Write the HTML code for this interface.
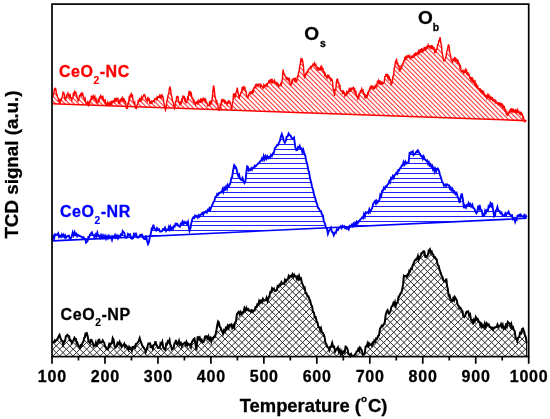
<!DOCTYPE html><html><head><meta charset="utf-8"><style>html,body{margin:0;padding:0;background:#fff;}svg{display:block;}text{font-family:"Liberation Sans",Arial,sans-serif;font-weight:bold;stroke:#000;stroke-width:0.3px;}</style></head><body><svg width="550" height="419" viewBox="0 0 550 419"><rect width="550" height="419" fill="#fff"/><defs><clipPath id="cr"><path d="M52.2 98.2 L52.9 95.8 L53.6 94.5 L54.4 89.1 L55.1 88.2 L55.8 88.8 L56.4 93.6 L57.0 94.3 L57.6 97.7 L58.2 98.2 L58.8 100.9 L59.4 100.0 L60.0 103.6 L60.6 99.6 L61.2 100.2 L61.8 98.2 L62.4 96.4 L63.0 92.3 L63.6 92.7 L64.2 93.8 L64.9 99.2 L65.5 100.0 L66.1 98.2 L66.7 95.0 L67.3 94.5 L67.9 93.1 L68.5 96.2 L69.1 96.4 L69.5 97.0 L70.0 93.6 L70.6 97.6 L71.2 97.7 L71.8 100.0 L72.3 98.2 L72.9 97.8 L73.4 92.6 L74.0 94.2 L74.5 91.8 L75.1 93.2 L75.8 92.3 L76.4 94.5 L77.0 96.5 L77.6 99.2 L78.2 100.9 L78.8 100.0 L79.4 95.8 L80.0 95.5 L80.5 94.3 L81.1 95.2 L81.6 93.6 L82.2 94.9 L82.7 93.6 L83.3 96.3 L83.9 97.7 L84.5 100.0 L85.1 98.6 L85.8 103.0 L86.4 102.7 L87.1 104.0 L87.8 102.0 L88.4 104.8 L89.1 102.7 L89.6 103.6 L90.2 100.4 L90.7 100.7 L91.3 97.1 L91.8 98.2 L92.4 95.6 L93.0 98.9 L93.6 96.4 L94.2 98.5 L94.9 96.6 L95.5 100.0 L96.1 99.0 L96.7 102.4 L97.3 102.7 L97.8 103.0 L98.4 98.5 L98.9 101.8 L99.5 97.6 L100.0 98.2 L100.6 95.9 L101.2 97.1 L101.8 96.4 L102.4 98.4 L103.0 97.2 L103.6 100.9 L104.2 100.2 L104.7 102.3 L105.3 100.9 L105.8 104.5 L106.4 103.6 L107.1 105.0 L107.8 102.4 L108.4 104.5 L109.1 103.6 L109.6 104.7 L110.2 101.5 L110.7 104.7 L111.3 102.4 L111.8 103.6 L112.3 101.4 L112.9 102.2 L113.4 101.2 L114.0 102.2 L114.5 100.0 L115.1 101.9 L115.6 97.9 L116.2 100.3 L116.7 98.6 L117.3 99.1 L117.9 98.5 L118.5 102.9 L119.1 101.8 L119.6 102.9 L120.2 99.1 L120.7 102.0 L121.3 98.8 L121.8 99.1 L122.3 97.8 L122.9 101.4 L123.4 98.0 L124.0 100.8 L124.5 100.0 L125.1 102.4 L125.6 102.0 L126.2 106.4 L126.7 106.5 L127.3 106.5 L127.9 103.3 L128.5 103.5 L129.1 98.2 L129.6 99.3 L130.2 94.7 L130.7 97.7 L131.3 93.7 L131.8 94.5 L132.4 95.3 L133.0 100.3 L133.6 101.8 L134.2 103.4 L134.7 102.4 L135.3 106.8 L135.8 106.8 L136.4 106.8 L137.0 104.9 L137.6 104.6 L138.2 100.9 L138.7 101.5 L139.3 99.4 L139.8 101.5 L140.4 98.4 L140.9 100.0 L141.5 97.3 L142.1 99.2 L142.7 97.3 L143.3 96.4 L143.9 94.6 L144.5 94.5 L145.1 95.7 L145.8 99.4 L146.4 100.0 L147.1 101.3 L147.8 96.9 L148.4 100.3 L149.1 98.2 L149.6 102.6 L150.0 103.6 L150.6 103.6 L151.2 100.3 L151.8 103.5 L152.4 101.2 L153.1 101.1 L153.7 100.4 L154.3 101.6 L154.9 98.7 L155.5 99.0 L156.1 98.3 L156.7 99.7 L157.2 97.0 L157.8 98.0 L158.4 97.0 L159.0 97.3 L159.6 95.6 L160.2 97.3 L160.8 95.9 L161.5 98.2 L162.1 95.2 L162.7 96.4 L163.3 98.1 L163.8 102.8 L164.4 104.4 L164.9 107.8 L165.5 107.8 L166.2 107.0 L166.8 101.6 L167.5 98.6 L168.2 94.5 L168.8 94.0 L169.4 88.2 L170.0 87.3 L170.6 89.6 L171.2 94.6 L171.8 96.4 L172.5 101.0 L173.2 102.1 L173.8 105.1 L174.5 108.0 L175.1 106.0 L175.6 101.4 L176.2 101.4 L176.7 96.8 L177.3 96.4 L178.0 96.8 L178.7 102.1 L179.3 102.4 L180.0 105.5 L180.6 101.4 L181.2 104.1 L181.8 99.4 L182.4 99.9 L183.0 96.1 L183.6 96.4 L184.2 96.4 L184.7 100.1 L185.3 99.1 L185.8 102.8 L186.4 102.7 L187.0 100.9 L187.6 97.8 L188.2 98.9 L188.8 92.6 L189.4 93.6 L190.0 91.0 L190.7 94.6 L191.3 93.6 L192.0 98.4 L192.7 98.2 L193.3 101.0 L193.8 99.4 L194.4 102.5 L194.9 103.2 L195.5 104.5 L196.1 101.7 L196.7 103.7 L197.2 100.9 L197.8 104.7 L198.4 100.6 L199.0 101.8 L199.6 100.9 L200.2 103.0 L200.8 98.3 L201.4 102.0 L202.1 98.7 L202.7 100.7 L203.3 98.5 L203.9 99.7 L204.5 99.0 L205.1 101.5 L205.7 99.8 L206.3 102.7 L207.0 102.9 L207.6 105.8 L208.2 105.5 L208.8 105.5 L209.4 102.8 L210.0 104.3 L210.6 100.7 L211.2 104.3 L211.8 101.8 L212.4 96.4 L213.0 90.2 L213.6 85.5 L214.2 88.7 L214.9 96.0 L215.5 98.2 L216.1 101.8 L216.7 101.0 L217.2 104.5 L217.8 104.2 L218.4 109.7 L219.0 109.7 L219.6 109.8 L220.2 105.2 L220.8 106.3 L221.5 100.7 L222.1 101.8 L222.7 99.0 L223.3 101.7 L223.9 99.4 L224.6 102.4 L225.2 101.1 L225.8 102.4 L226.4 102.7 L227.0 104.4 L227.6 101.5 L228.2 103.6 L228.8 100.1 L229.4 103.4 L230.0 101.4 L230.6 104.9 L231.2 105.7 L231.8 109.5 L232.4 103.1 L233.0 100.4 L233.6 93.2 L234.2 96.0 L234.9 93.7 L235.5 97.7 L236.1 92.0 L236.7 91.3 L237.3 87.7 L237.9 92.5 L238.5 94.5 L239.1 98.6 L239.7 96.3 L240.3 94.6 L240.9 92.3 L241.6 92.5 L242.2 87.0 L242.9 89.2 L243.6 85.9 L244.2 88.4 L244.9 87.8 L245.5 91.4 L246.1 91.4 L246.7 96.4 L247.3 97.7 L248.0 97.5 L248.7 94.2 L249.3 93.8 L250.0 92.3 L250.6 93.5 L251.2 91.1 L251.8 94.1 L252.5 90.9 L253.2 92.8 L253.8 87.9 L254.5 87.7 L255.1 86.2 L255.6 88.3 L256.2 83.8 L256.7 85.6 L257.3 85.0 L258.0 86.2 L258.6 84.2 L259.3 84.6 L260.0 84.1 L260.7 86.6 L261.4 85.3 L262.0 86.6 L262.7 86.8 L263.3 88.7 L263.8 85.1 L264.4 86.5 L264.9 85.5 L265.5 85.9 L266.2 84.4 L266.9 86.1 L267.5 83.5 L268.2 83.2 L268.9 80.3 L269.5 83.1 L270.2 79.3 L270.9 81.4 L271.4 79.0 L272.0 82.0 L272.5 80.5 L273.1 82.4 L273.6 81.4 L274.2 82.1 L274.7 80.6 L275.3 83.1 L275.8 83.5 L276.4 84.1 L276.9 81.9 L277.5 85.4 L278.0 83.5 L278.6 86.5 L279.1 85.9 L279.8 85.7 L280.5 83.8 L281.1 85.1 L281.8 82.3 L282.5 77.9 L283.1 69.5 L283.8 73.8 L284.5 74.1 L285.1 76.1 L285.8 76.9 L286.4 79.5 L287.0 77.1 L287.6 80.3 L288.2 77.7 L288.9 80.7 L289.5 79.4 L290.2 84.6 L290.9 85.0 L291.4 84.3 L292.0 80.8 L292.5 81.8 L293.1 79.0 L293.6 78.6 L294.2 78.8 L294.7 80.3 L295.3 77.7 L295.8 81.8 L296.4 81.4 L296.9 80.8 L297.5 75.6 L298.0 77.4 L298.6 72.2 L299.1 71.4 L299.7 66.4 L300.3 64.1 L300.9 59.5 L301.5 60.8 L302.1 58.5 L302.7 61.4 L303.3 64.5 L303.9 72.9 L304.5 77.7 L305.1 77.2 L305.8 73.7 L306.4 74.1 L306.9 71.3 L307.5 73.1 L308.0 70.0 L308.6 69.7 L309.1 68.6 L309.8 68.4 L310.5 66.9 L311.1 67.7 L311.8 65.9 L312.5 65.4 L313.1 64.2 L313.8 65.2 L314.5 63.2 L315.1 65.6 L315.8 64.6 L316.4 68.6 L316.9 67.1 L317.5 70.4 L318.0 68.0 L318.6 69.6 L319.1 68.6 L319.8 69.8 L320.5 67.4 L321.1 69.2 L321.8 66.8 L322.4 69.3 L323.0 68.9 L323.6 73.2 L324.2 71.4 L324.7 76.3 L325.3 74.3 L325.8 76.3 L326.4 76.8 L327.0 78.0 L327.6 74.7 L328.2 77.9 L328.8 75.0 L329.4 77.8 L330.0 77.7 L330.7 80.2 L331.3 78.7 L332.0 79.5 L332.6 82.6 L333.2 89.6 L333.9 89.7 L334.5 96.0 L335.1 89.5 L335.8 89.5 L336.4 81.6 L337.0 79.5 L337.6 79.1 L338.1 83.0 L338.7 82.9 L339.3 86.1 L339.9 85.4 L340.4 90.3 L341.0 90.5 L341.6 91.5 L342.1 91.2 L342.7 94.0 L343.2 90.3 L343.8 94.1 L344.4 91.9 L344.9 95.8 L345.5 94.5 L346.1 95.0 L346.7 92.3 L347.2 93.7 L347.8 91.7 L348.4 92.1 L349.0 89.8 L349.6 92.0 L350.1 89.0 L350.7 90.3 L351.3 88.5 L351.9 89.4 L352.4 88.2 L353.0 88.7 L353.6 87.7 L354.2 91.0 L354.8 89.6 L355.4 93.2 L355.9 92.2 L356.5 96.0 L357.1 97.0 L357.7 98.6 L358.3 95.7 L358.9 96.9 L359.5 92.6 L360.0 94.0 L360.6 89.8 L361.2 91.9 L361.8 89.0 L362.4 90.9 L363.0 90.3 L363.6 94.1 L364.2 93.7 L364.8 96.7 L365.4 95.6 L366.0 98.6 L366.6 94.6 L367.1 97.4 L367.7 93.0 L368.3 93.7 L368.9 90.6 L369.4 89.4 L370.0 87.7 L370.6 88.8 L371.2 85.4 L371.8 88.0 L372.4 85.6 L373.1 89.5 L373.7 86.7 L374.3 89.1 L374.9 85.4 L375.5 87.7 L376.1 85.2 L376.8 86.5 L377.4 81.6 L378.0 82.3 L378.6 80.7 L379.2 84.4 L379.9 80.4 L380.5 84.9 L381.1 81.4 L381.7 83.5 L382.4 82.5 L383.0 83.9 L383.6 83.6 L384.2 82.4 L384.8 76.7 L385.4 76.5 L386.0 74.0 L386.6 76.4 L387.2 73.9 L387.7 77.6 L388.3 76.3 L388.9 79.1 L389.5 77.7 L390.1 80.8 L390.6 79.1 L391.2 84.3 L391.8 83.6 L392.4 81.6 L393.0 76.1 L393.6 75.6 L394.2 67.9 L394.8 67.4 L395.4 61.7 L396.0 60.5 L396.6 59.6 L397.1 64.6 L397.7 62.7 L398.3 67.0 L398.9 65.0 L399.4 70.8 L400.0 70.2 L400.6 69.6 L401.2 65.2 L401.8 66.8 L402.5 63.9 L403.1 63.7 L403.7 61.1 L404.3 60.2 L404.9 56.9 L405.5 60.5 L406.0 57.1 L406.6 58.0 L407.2 55.9 L407.8 56.9 L408.4 55.8 L409.0 57.1 L409.7 55.8 L410.3 58.5 L410.9 57.1 L411.5 57.3 L412.1 56.1 L412.8 57.3 L413.4 55.7 L414.0 56.7 L414.7 53.2 L415.3 56.2 L415.9 53.2 L416.6 54.1 L417.2 53.0 L417.8 53.8 L418.4 51.5 L418.9 53.3 L419.5 51.0 L420.1 53.0 L420.7 49.1 L421.3 52.7 L421.8 48.1 L422.4 51.5 L423.0 50.1 L423.6 50.7 L424.3 47.0 L424.9 50.6 L425.5 46.9 L426.2 49.0 L426.8 46.9 L427.4 47.7 L428.1 44.9 L428.7 46.7 L429.3 46.3 L429.9 48.4 L430.5 45.4 L431.2 49.0 L431.8 45.0 L432.4 49.2 L433.0 47.3 L433.6 48.7 L434.1 48.1 L434.7 51.9 L435.2 50.8 L435.8 53.0 L436.4 49.2 L437.0 49.2 L437.6 44.7 L438.3 44.0 L438.9 40.4 L439.5 40.4 L440.1 37.2 L440.7 42.3 L441.4 44.9 L442.0 52.2 L442.6 55.0 L443.3 59.4 L444.0 61.0 L444.8 60.5 L445.5 58.0 L446.1 56.6 L446.7 51.4 L447.3 50.3 L447.9 47.1 L448.5 44.4 L449.2 47.0 L449.8 52.7 L450.5 55.0 L451.2 59.8 L452.0 61.0 L452.6 62.1 L453.2 58.2 L453.9 61.2 L454.5 58.5 L455.1 60.1 L455.7 57.5 L456.3 61.3 L457.0 59.0 L457.6 63.8 L458.2 61.4 L458.8 63.0 L459.4 64.1 L459.9 67.7 L460.5 66.6 L461.0 70.6 L461.6 71.6 L462.2 71.6 L462.9 70.4 L463.5 72.5 L464.1 70.3 L464.7 73.4 L465.4 69.9 L466.0 71.6 L466.6 70.4 L467.2 75.1 L467.8 72.0 L468.4 75.9 L469.0 73.7 L469.6 77.9 L470.2 77.4 L470.8 79.6 L471.4 77.2 L472.0 80.7 L472.7 78.9 L473.3 82.8 L473.9 79.8 L474.5 83.1 L475.1 81.8 L475.7 86.5 L476.3 83.4 L477.0 88.1 L477.6 85.4 L478.2 88.7 L478.8 88.8 L479.4 90.0 L480.0 88.1 L480.6 92.5 L481.3 89.7 L481.9 92.2 L482.5 90.2 L483.1 93.1 L483.7 92.2 L484.3 95.2 L484.8 94.6 L485.4 96.5 L486.0 96.0 L486.6 97.9 L487.3 95.3 L487.9 97.7 L488.5 95.4 L489.2 97.7 L489.8 96.4 L490.4 100.2 L491.1 96.6 L491.7 98.9 L492.3 98.1 L493.0 101.3 L493.6 98.6 L494.2 101.2 L494.9 100.5 L495.5 103.5 L496.1 101.3 L496.8 102.8 L497.4 103.1 L498.0 105.1 L498.6 102.1 L499.1 104.7 L499.7 102.7 L500.3 106.1 L500.9 104.2 L501.5 106.5 L502.0 103.4 L502.6 107.4 L503.2 106.0 L503.8 108.0 L504.4 107.1 L505.0 110.8 L505.7 110.1 L506.3 113.5 L506.9 112.4 L507.5 116.0 L508.1 112.5 L508.6 114.4 L509.2 111.8 L509.7 113.4 L510.3 110.3 L510.9 112.0 L511.5 108.4 L512.1 111.0 L512.8 108.7 L513.4 112.6 L514.0 110.5 L514.6 111.7 L515.2 110.4 L515.8 113.3 L516.4 109.6 L517.1 112.1 L517.7 109.9 L518.3 112.0 L518.9 111.7 L519.5 114.3 L520.1 111.5 L520.6 115.3 L521.2 112.0 L521.8 114.6 L522.4 114.3 L523.0 118.0 L523.5 117.4 L524.1 120.6 L524.7 120.6 L525.4 120.6 L526.1 120.3 L526.1 120.6 L52.2 103.8 Z"/></clipPath><clipPath id="cb"><path d="M52.5 240.3 L53.3 236.4 L54.2 238.2 L55.0 234.3 L55.8 234.6 L56.5 234.4 L57.3 234.8 L58.2 233.4 L59.1 236.9 L60.0 235.8 L60.9 236.9 L61.8 234.5 L62.7 236.3 L63.6 234.8 L64.4 237.0 L65.2 235.5 L66.0 237.8 L67.1 236.3 L68.2 235.8 L69.0 235.8 L69.7 238.6 L70.5 238.8 L71.6 237.0 L72.7 232.4 L73.6 235.2 L74.6 232.1 L75.5 234.8 L76.4 233.8 L77.2 236.2 L78.1 234.9 L79.0 235.8 L79.9 236.0 L80.9 236.5 L81.8 236.8 L82.7 238.4 L83.6 237.3 L84.5 238.8 L85.3 238.9 L86.0 239.3 L86.8 239.2 L87.6 239.2 L88.4 237.0 L89.2 237.0 L90.0 234.8 L90.9 233.6 L91.8 232.4 L92.7 234.7 L93.6 235.3 L94.5 237.3 L95.4 234.6 L96.4 236.3 L97.3 232.8 L98.2 235.8 L99.1 235.6 L100.0 237.8 L101.0 235.1 L102.0 237.7 L103.0 235.3 L104.0 237.9 L105.0 235.8 L106.0 238.3 L107.0 236.2 L108.0 238.2 L109.0 235.8 L110.0 237.8 L111.0 236.5 L112.0 238.0 L113.0 236.2 L114.0 236.8 L115.0 234.8 L116.0 237.5 L117.0 235.6 L118.0 237.8 L119.0 235.9 L120.0 236.7 L121.0 234.3 L121.9 234.6 L122.7 231.1 L123.6 232.3 L124.4 233.0 L125.2 237.4 L126.0 237.4 L127.0 237.3 L128.0 234.0 L129.0 234.8 L130.0 234.3 L131.0 237.1 L132.0 237.1 L133.0 237.0 L134.0 233.6 L135.0 233.8 L136.0 233.6 L137.0 236.8 L138.0 236.8 L139.0 236.8 L140.0 235.0 L141.0 234.8 L142.0 234.6 L143.0 236.6 L144.0 236.5 L145.0 236.5 L146.0 235.8 L147.0 236.4 L148.0 236.3 L149.0 236.3 L150.0 236.0 L150.8 233.8 L151.7 228.5 L152.6 229.0 L153.4 224.8 L154.2 227.9 L155.0 229.0 L156.0 230.4 L157.0 228.2 L158.0 230.0 L159.0 229.2 L160.0 231.6 L161.0 231.5 L162.0 231.2 L163.0 229.0 L164.0 229.5 L165.0 227.7 L166.0 231.0 L167.0 229.6 L168.0 230.0 L168.8 227.2 L169.5 229.2 L170.3 226.6 L171.2 229.2 L172.1 227.7 L173.0 229.0 L173.8 226.1 L174.7 226.5 L175.6 223.6 L176.4 223.7 L177.3 223.8 L178.1 225.7 L179.0 226.0 L179.9 226.7 L180.8 223.5 L181.6 223.8 L182.5 221.7 L183.3 223.9 L184.2 222.1 L185.0 223.3 L186.0 222.2 L187.0 224.1 L188.0 221.8 L188.8 227.1 L189.5 230.8 L190.5 228.3 L191.4 222.7 L192.4 218.9 L193.3 217.4 L194.2 218.0 L195.1 215.6 L196.0 216.7 L196.9 215.9 L197.8 217.5 L198.7 215.2 L199.6 216.5 L200.5 214.6 L201.4 214.4 L202.3 213.1 L203.2 214.8 L204.1 212.1 L205.0 212.4 L205.9 211.4 L206.8 212.5 L207.7 209.9 L208.5 210.6 L209.4 208.2 L210.3 209.9 L211.3 207.0 L212.3 205.0 L213.3 202.5 L214.3 201.2 L215.3 197.1 L216.3 196.5 L217.2 194.0 L218.1 194.9 L219.0 193.0 L219.9 193.0 L220.8 192.0 L221.7 192.3 L222.6 189.2 L223.4 191.7 L224.3 187.8 L225.2 189.1 L226.1 186.6 L227.0 189.0 L227.9 184.9 L228.8 186.4 L229.7 184.6 L230.5 182.6 L231.3 178.2 L232.1 177.1 L233.1 170.4 L234.2 165.2 L235.2 166.4 L236.3 168.2 L237.5 173.5 L238.3 175.9 L239.1 174.7 L239.9 178.3 L240.7 179.5 L241.6 179.9 L242.5 178.0 L243.5 181.3 L244.5 183.0 L245.5 181.0 L246.3 172.6 L247.2 166.5 L248.0 167.1 L248.7 170.4 L249.5 169.5 L250.3 170.1 L251.2 168.3 L252.0 169.7 L252.9 167.8 L253.8 167.9 L254.7 165.7 L255.6 166.4 L256.5 165.2 L257.4 164.4 L258.3 163.3 L259.2 162.9 L260.1 161.4 L261.0 160.8 L261.9 158.5 L262.8 160.0 L263.7 156.1 L264.6 159.1 L265.5 156.3 L266.4 158.6 L267.3 156.3 L268.2 158.1 L269.1 156.8 L270.0 157.8 L271.0 155.0 L271.9 156.0 L272.9 153.3 L273.9 152.9 L274.9 147.8 L275.9 147.3 L276.9 145.2 L277.9 145.2 L278.9 142.9 L279.9 141.0 L280.8 136.9 L281.8 134.0 L282.8 136.8 L283.8 140.8 L284.8 142.9 L285.8 140.8 L286.7 136.7 L287.7 136.3 L288.6 133.5 L289.5 134.9 L290.5 135.4 L291.4 137.6 L292.3 138.4 L293.1 138.4 L294.0 137.5 L295.3 147.3 L296.3 150.3 L297.1 150.2 L298.0 147.0 L298.9 147.6 L299.7 145.9 L300.6 148.7 L301.5 148.3 L302.4 152.2 L303.3 149.9 L304.2 153.3 L305.2 155.2 L306.2 161.1 L307.2 163.7 L308.2 169.7 L309.1 172.3 L310.1 178.6 L311.1 182.2 L312.1 187.0 L313.1 190.0 L314.1 195.1 L315.1 197.5 L316.1 202.0 L317.0 203.8 L318.0 207.9 L318.9 208.4 L319.9 211.1 L320.9 211.2 L321.9 214.4 L322.9 215.5 L323.9 221.6 L324.9 223.3 L325.9 227.4 L326.9 227.8 L327.9 227.7 L328.9 227.7 L329.9 227.6 L330.9 227.6 L331.9 227.6 L332.8 227.5 L333.8 227.5 L334.8 227.4 L335.8 227.4 L336.8 227.3 L337.8 227.3 L338.8 227.2 L339.8 227.2 L340.7 226.4 L341.6 227.1 L342.5 225.8 L343.4 227.0 L344.3 226.3 L345.2 226.9 L346.1 226.9 L346.9 226.8 L347.8 226.8 L348.7 226.7 L349.7 225.9 L350.7 226.5 L351.7 224.8 L352.6 226.1 L353.4 223.8 L354.3 225.3 L355.1 223.0 L356.0 224.7 L356.8 221.9 L357.7 223.3 L358.6 221.2 L359.5 221.2 L360.3 219.4 L361.2 218.7 L362.1 217.4 L363.0 218.2 L363.9 214.2 L364.8 216.6 L365.7 212.3 L366.6 212.9 L367.5 212.2 L368.4 213.0 L369.3 209.5 L370.2 211.9 L371.1 209.9 L372.1 208.4 L373.1 204.1 L374.1 202.5 L375.0 201.1 L375.9 203.5 L376.7 200.9 L377.6 202.4 L378.5 201.0 L379.4 199.9 L380.3 194.9 L381.2 196.4 L382.1 190.8 L383.0 190.6 L383.9 187.7 L384.8 188.8 L385.7 186.4 L386.6 186.8 L387.5 184.6 L388.4 183.9 L389.3 181.2 L390.1 182.4 L391.0 177.9 L391.9 178.6 L392.8 176.1 L393.7 177.9 L394.6 174.8 L395.5 174.6 L396.4 172.7 L397.3 173.7 L398.2 170.2 L399.1 170.4 L400.0 168.3 L400.9 167.5 L401.8 165.4 L402.7 165.6 L403.6 162.0 L404.6 164.5 L405.5 161.6 L406.5 163.5 L407.6 162.6 L408.6 162.5 L409.6 153.0 L410.4 153.4 L411.2 152.0 L412.0 152.5 L412.8 151.5 L413.5 154.9 L414.3 154.0 L415.4 153.6 L416.5 151.5 L417.2 152.0 L418.0 150.5 L419.0 152.5 L420.0 154.0 L420.9 156.0 L421.8 155.8 L422.8 158.9 L423.7 156.5 L424.7 159.3 L425.5 159.8 L426.3 161.0 L427.1 160.5 L428.0 163.7 L428.8 162.2 L429.7 165.3 L430.5 164.2 L431.3 166.6 L432.1 165.6 L433.0 169.4 L433.8 168.0 L434.6 171.5 L435.4 169.1 L436.2 171.1 L437.0 168.7 L437.8 168.4 L438.9 170.5 L439.9 174.6 L440.9 177.3 L442.0 181.4 L443.0 183.0 L444.0 185.8 L445.1 184.6 L446.1 186.1 L447.1 184.4 L448.2 185.1 L449.0 185.3 L449.8 188.5 L450.6 187.5 L451.4 190.3 L452.4 188.8 L453.5 192.4 L454.5 191.4 L455.5 194.1 L456.6 192.9 L457.6 196.6 L458.6 198.9 L459.7 202.9 L460.8 196.6 L461.8 193.5 L462.9 199.4 L463.9 208.1 L464.9 205.5 L466.0 207.7 L467.0 205.0 L467.8 205.2 L468.6 203.1 L469.4 205.0 L470.2 203.9 L471.2 206.6 L472.3 204.7 L473.3 208.1 L474.3 208.4 L475.4 211.6 L476.4 213.3 L477.2 212.2 L478.0 207.6 L478.8 208.8 L479.6 205.0 L480.6 209.8 L481.7 210.2 L482.7 215.4 L483.5 214.3 L484.4 215.2 L485.2 210.7 L486.1 212.5 L486.9 210.2 L487.8 210.8 L488.6 206.0 L489.5 206.8 L490.4 203.6 L491.2 205.7 L492.1 202.9 L493.1 210.0 L494.2 216.4 L495.0 215.5 L495.8 210.4 L496.6 209.7 L497.4 207.0 L498.4 210.7 L499.5 210.8 L500.5 213.3 L501.5 212.6 L502.6 215.6 L503.6 215.4 L504.4 215.5 L505.3 213.3 L506.1 215.1 L507.0 213.2 L507.8 213.3 L508.6 211.8 L509.5 214.3 L510.3 214.5 L511.2 216.0 L512.0 215.4 L513.0 218.9 L514.1 218.2 L515.1 218.8 L515.9 218.5 L516.7 218.7 L517.5 215.5 L518.3 215.4 L519.1 214.8 L519.9 216.3 L520.8 214.8 L521.6 216.3 L522.4 216.4 L523.2 216.8 L524.1 215.2 L524.9 217.4 L525.8 215.7 L526.6 217.5 L526.6 218.3 L52.5 240.9 Z"/></clipPath><clipPath id="ck"><path d="M52.7 343.1 L53.4 342.0 L54.1 342.2 L54.8 340.4 L55.5 341.3 L56.8 339.5 L57.5 339.2 L58.2 337.2 L59.5 334.9 L60.5 338.1 L61.8 340.8 L62.5 341.2 L63.2 344.5 L64.5 340.8 L65.2 340.1 L65.9 336.3 L66.6 335.8 L67.3 334.9 L68.2 335.6 L69.1 336.3 L69.8 340.1 L70.5 339.9 L71.8 343.1 L72.5 341.2 L73.2 340.8 L74.5 337.7 L75.2 338.9 L75.9 339.0 L76.6 343.3 L77.3 342.7 L78.6 346.3 L79.3 346.2 L80.0 348.6 L80.7 345.3 L81.4 345.8 L82.7 342.7 L83.4 341.6 L84.1 338.1 L84.8 337.4 L85.5 333.6 L86.8 333.1 L87.7 336.3 L88.6 341.8 L89.3 342.0 L90.0 343.1 L90.7 340.0 L91.4 339.9 L92.7 342.7 L93.6 346.2 L94.5 345.4 L95.2 345.3 L95.9 342.7 L96.6 345.4 L97.3 344.5 L98.6 339.9 L99.3 339.7 L100.0 342.7 L100.9 342.2 L101.8 342.2 L102.7 340.4 L103.6 342.2 L104.3 342.8 L105.0 346.3 L105.7 346.8 L106.4 349.0 L107.7 349.5 L108.4 347.1 L109.1 344.5 L109.8 346.1 L110.5 343.6 L111.8 343.1 L112.7 338.1 L113.6 339.9 L114.5 345.8 L115.2 347.6 L115.9 347.2 L116.8 345.4 L117.5 343.0 L118.2 344.0 L119.5 341.8 L120.2 345.0 L120.9 344.0 L121.6 346.6 L122.3 345.8 L123.6 344.9 L124.3 343.8 L125.0 346.8 L125.7 345.3 L126.4 345.8 L127.7 348.1 L128.4 349.6 L129.1 347.2 L129.8 348.7 L130.5 348.1 L131.8 350.8 L132.5 347.2 L133.2 347.7 L134.5 346.3 L135.2 347.3 L135.9 344.0 L136.6 343.8 L137.3 343.1 L138.6 341.3 L139.7 338.1 L140.9 342.2 L141.6 343.6 L142.3 345.8 L143.6 347.2 L144.3 348.9 L145.0 349.5 L145.7 352.0 L146.4 349.9 L147.7 345.8 L148.4 343.6 L149.1 343.6 L150.0 343.3 L150.9 346.8 L151.8 346.1 L152.7 348.6 L153.6 345.1 L154.6 344.6 L155.5 341.3 L156.2 344.7 L157.0 345.3 L158.0 347.9 L159.0 347.7 L159.8 347.7 L160.5 343.3 L161.4 344.2 L162.3 341.8 L163.4 347.9 L164.5 349.5 L165.3 349.8 L166.2 343.8 L167.0 344.3 L167.8 341.2 L168.7 341.8 L169.5 339.9 L170.2 344.7 L171.0 345.3 L171.8 349.3 L172.7 348.6 L173.6 348.1 L174.5 343.3 L175.2 343.0 L175.9 339.9 L176.7 343.8 L177.5 344.3 L178.2 343.1 L179.0 340.8 L179.9 344.6 L180.9 343.1 L181.8 346.3 L182.9 344.0 L184.0 343.3 L184.8 342.7 L185.6 344.7 L186.4 342.3 L187.2 345.5 L187.9 343.7 L188.7 344.8 L189.8 344.2 L190.9 347.2 L191.7 343.1 L192.4 341.1 L193.4 339.4 L194.5 338.6 L195.4 343.6 L196.4 350.3 L197.7 336.3 L198.7 338.7 L199.7 337.4 L200.6 340.7 L201.6 339.7 L202.5 342.6 L203.4 342.3 L204.2 340.4 L205.1 336.5 L205.9 336.2 L206.8 336.2 L207.7 340.1 L208.6 336.7 L209.5 339.8 L210.4 338.2 L211.3 341.6 L212.3 338.0 L213.2 338.6 L214.0 336.7 L214.9 336.8 L215.7 333.7 L216.5 329.7 L217.3 324.9 L218.1 321.4 L218.9 322.4 L219.8 327.0 L220.6 327.6 L221.4 330.0 L222.2 331.5 L223.0 333.7 L223.9 330.5 L224.8 332.0 L225.8 327.9 L226.7 328.8 L227.6 325.9 L228.6 327.9 L229.5 324.8 L230.4 325.1 L231.3 324.4 L232.2 327.9 L233.2 325.5 L234.1 327.6 L235.0 322.5 L235.9 321.7 L236.9 314.4 L237.8 312.8 L238.7 311.8 L239.7 314.5 L240.6 312.1 L241.5 314.1 L242.5 312.2 L243.5 312.3 L244.4 308.2 L245.4 310.4 L246.4 307.9 L247.3 309.9 L248.2 309.1 L249.1 310.8 L250.0 310.4 L250.9 311.8 L251.8 310.3 L252.8 311.9 L253.7 310.4 L254.6 310.4 L255.5 307.1 L256.5 307.3 L257.4 304.3 L258.3 304.5 L259.2 300.8 L260.2 302.4 L261.1 300.6 L262.0 302.3 L263.0 298.9 L263.9 300.7 L264.8 300.6 L265.7 300.1 L266.6 297.7 L267.6 301.1 L268.5 298.1 L269.4 296.3 L270.3 292.0 L271.2 292.2 L272.1 288.3 L273.0 289.7 L274.0 288.6 L274.9 290.9 L275.8 290.8 L276.7 290.1 L277.6 286.2 L278.6 286.9 L279.5 284.6 L280.4 285.2 L281.4 282.2 L282.3 283.8 L283.2 283.4 L284.1 283.9 L285.0 279.8 L286.0 281.4 L286.9 279.7 L287.8 279.3 L288.7 276.0 L289.6 277.5 L290.5 276.0 L291.4 276.2 L292.4 274.3 L293.3 276.8 L294.2 274.8 L295.0 276.3 L295.9 276.4 L296.7 278.5 L297.5 276.8 L298.3 278.9 L299.1 276.0 L300.0 279.2 L301.0 278.4 L301.9 282.9 L302.8 284.6 L303.7 287.6 L304.6 287.3 L305.6 293.2 L306.5 293.2 L307.4 296.1 L308.4 296.2 L309.3 299.0 L310.2 300.6 L311.1 304.9 L312.0 306.1 L313.0 311.7 L313.9 312.8 L314.8 317.3 L315.7 317.2 L316.6 320.9 L317.5 322.7 L318.4 327.0 L319.3 327.3 L320.2 330.3 L321.0 328.3 L321.9 332.4 L322.7 332.6 L323.6 334.4 L324.6 336.9 L325.5 343.1 L326.5 344.5 L327.4 347.1 L328.4 347.4 L329.3 350.2 L330.3 346.7 L331.2 346.4 L332.2 343.0 L333.2 346.9 L334.1 346.7 L335.1 351.6 L336.0 349.7 L337.0 348.7 L337.9 347.3 L338.9 352.0 L339.8 350.1 L340.8 354.5 L341.8 351.4 L342.7 353.6 L343.7 351.6 L344.6 352.5 L345.6 346.7 L346.5 347.3 L347.5 349.0 L348.4 353.9 L349.4 354.5 L350.3 356.0 L351.1 354.1 L352.0 356.0 L352.8 356.0 L353.7 356.0 L354.7 354.5 L355.6 354.1 L356.6 351.6 L357.5 351.2 L358.3 349.0 L359.2 350.6 L360.0 347.5 L360.9 348.8 L361.8 350.5 L362.8 354.8 L363.7 354.5 L364.7 353.3 L365.6 346.7 L366.6 345.9 L367.5 343.6 L368.3 347.5 L369.2 343.6 L370.0 344.8 L370.9 344.5 L371.8 345.7 L372.6 342.8 L373.5 343.5 L374.3 340.6 L375.2 341.6 L376.2 338.4 L377.1 338.8 L378.1 335.9 L379.0 335.3 L380.0 328.7 L380.9 327.3 L381.9 325.4 L382.8 326.0 L383.8 324.4 L384.8 322.2 L385.7 314.6 L386.7 311.5 L387.6 310.2 L388.6 313.4 L389.5 313.0 L390.5 311.1 L391.4 306.9 L392.4 305.8 L393.3 303.3 L394.1 305.1 L395.0 302.2 L395.8 305.7 L396.7 302.9 L397.6 302.5 L398.6 296.3 L399.5 295.8 L400.5 293.4 L401.4 292.5 L402.4 288.6 L403.1 284.2 L403.9 275.7 L404.8 276.3 L405.8 275.9 L406.7 277.1 L407.6 274.6 L408.4 274.9 L409.3 270.8 L410.1 271.4 L411.0 268.5 L411.9 268.7 L412.7 265.0 L413.6 263.5 L414.4 261.2 L415.3 259.9 L416.2 258.9 L417.0 258.9 L417.9 256.1 L418.7 259.7 L419.6 257.1 L420.6 255.9 L421.5 253.0 L422.5 252.8 L423.4 251.2 L424.3 251.3 L425.3 257.1 L426.2 257.1 L427.2 255.6 L428.0 254.6 L428.8 250.2 L429.6 249.9 L430.0 249.3 L430.8 252.4 L431.7 251.6 L432.5 254.2 L433.3 254.7 L434.1 257.1 L434.9 257.0 L435.7 258.5 L436.7 259.5 L437.6 265.0 L438.6 265.6 L439.6 269.9 L440.5 272.0 L441.5 275.6 L442.4 276.9 L443.4 280.3 L444.3 281.3 L445.3 281.4 L446.3 278.5 L447.1 286.1 L447.8 288.9 L448.6 295.6 L449.6 295.2 L450.5 300.0 L451.5 299.9 L452.4 300.7 L453.2 298.3 L454.1 300.3 L454.9 297.1 L455.8 298.5 L456.7 299.8 L457.7 305.0 L458.6 305.7 L459.6 308.2 L460.5 307.8 L461.5 309.9 L462.4 311.0 L463.4 316.4 L464.3 317.1 L465.3 315.4 L466.2 312.2 L467.2 311.4 L468.2 311.3 L469.1 315.5 L470.1 314.3 L471.0 319.9 L472.0 320.0 L472.9 324.3 L473.9 319.9 L474.8 321.4 L475.8 317.1 L476.7 319.2 L477.7 318.8 L478.6 321.4 L479.5 321.8 L480.3 325.1 L481.2 322.4 L482.0 327.0 L482.9 325.7 L483.9 327.4 L484.8 323.6 L485.8 326.8 L486.8 323.4 L487.7 324.8 L488.7 324.3 L489.6 327.1 L490.6 327.1 L491.5 328.5 L492.4 327.8 L493.2 329.8 L494.1 327.5 L494.9 327.6 L495.8 327.1 L496.7 327.1 L497.5 324.6 L498.4 326.7 L499.2 325.9 L500.1 325.7 L501.0 324.1 L501.8 326.6 L502.7 324.6 L503.5 328.4 L504.4 327.1 L505.3 328.3 L506.1 323.3 L507.0 325.9 L507.8 321.8 L508.7 322.8 L509.6 323.5 L510.4 326.4 L511.3 324.1 L512.1 328.0 L513.0 327.1 L513.9 330.2 L514.7 331.1 L515.6 337.9 L516.4 338.3 L517.3 341.4 L518.2 337.6 L519.2 337.0 L520.1 332.8 L521.1 333.4 L522.0 329.2 L523.0 328.5 L523.9 330.8 L524.9 334.8 L525.8 337.1 L526.7 343.0 L526.7 356.6 L52.7 356.6 Z"/></clipPath></defs><g clip-path="url(#cr)"><path d="M-69.10 25 L35.90 130 M-64.50 25 L40.50 130 M-59.90 25 L45.10 130 M-55.30 25 L49.70 130 M-50.70 25 L54.30 130 M-46.10 25 L58.90 130 M-41.50 25 L63.50 130 M-36.90 25 L68.10 130 M-32.30 25 L72.70 130 M-27.70 25 L77.30 130 M-23.10 25 L81.90 130 M-18.50 25 L86.50 130 M-13.90 25 L91.10 130 M-9.30 25 L95.70 130 M-4.70 25 L100.30 130 M-0.10 25 L104.90 130 M4.50 25 L109.50 130 M9.10 25 L114.10 130 M13.70 25 L118.70 130 M18.30 25 L123.30 130 M22.90 25 L127.90 130 M27.50 25 L132.50 130 M32.10 25 L137.10 130 M36.70 25 L141.70 130 M41.30 25 L146.30 130 M45.90 25 L150.90 130 M50.50 25 L155.50 130 M55.10 25 L160.10 130 M59.70 25 L164.70 130 M64.30 25 L169.30 130 M68.90 25 L173.90 130 M73.50 25 L178.50 130 M78.10 25 L183.10 130 M82.70 25 L187.70 130 M87.30 25 L192.30 130 M91.90 25 L196.90 130 M96.50 25 L201.50 130 M101.10 25 L206.10 130 M105.70 25 L210.70 130 M110.30 25 L215.30 130 M114.90 25 L219.90 130 M119.50 25 L224.50 130 M124.10 25 L229.10 130 M128.70 25 L233.70 130 M133.30 25 L238.30 130 M137.90 25 L242.90 130 M142.50 25 L247.50 130 M147.10 25 L252.10 130 M151.70 25 L256.70 130 M156.30 25 L261.30 130 M160.90 25 L265.90 130 M165.50 25 L270.50 130 M170.10 25 L275.10 130 M174.70 25 L279.70 130 M179.30 25 L284.30 130 M183.90 25 L288.90 130 M188.50 25 L293.50 130 M193.10 25 L298.10 130 M197.70 25 L302.70 130 M202.30 25 L307.30 130 M206.90 25 L311.90 130 M211.50 25 L316.50 130 M216.10 25 L321.10 130 M220.70 25 L325.70 130 M225.30 25 L330.30 130 M229.90 25 L334.90 130 M234.50 25 L339.50 130 M239.10 25 L344.10 130 M243.70 25 L348.70 130 M248.30 25 L353.30 130 M252.90 25 L357.90 130 M257.50 25 L362.50 130 M262.10 25 L367.10 130 M266.70 25 L371.70 130 M271.30 25 L376.30 130 M275.90 25 L380.90 130 M280.50 25 L385.50 130 M285.10 25 L390.10 130 M289.70 25 L394.70 130 M294.30 25 L399.30 130 M298.90 25 L403.90 130 M303.50 25 L408.50 130 M308.10 25 L413.10 130 M312.70 25 L417.70 130 M317.30 25 L422.30 130 M321.90 25 L426.90 130 M326.50 25 L431.50 130 M331.10 25 L436.10 130 M335.70 25 L440.70 130 M340.30 25 L445.30 130 M344.90 25 L449.90 130 M349.50 25 L454.50 130 M354.10 25 L459.10 130 M358.70 25 L463.70 130 M363.30 25 L468.30 130 M367.90 25 L472.90 130 M372.50 25 L477.50 130 M377.10 25 L482.10 130 M381.70 25 L486.70 130 M386.30 25 L491.30 130 M390.90 25 L495.90 130 M395.50 25 L500.50 130 M400.10 25 L505.10 130 M404.70 25 L509.70 130 M409.30 25 L514.30 130 M413.90 25 L518.90 130 M418.50 25 L523.50 130 M423.10 25 L528.10 130 M427.70 25 L532.70 130 M432.30 25 L537.30 130 M436.90 25 L541.90 130 M441.50 25 L546.50 130 M446.10 25 L551.10 130 M450.70 25 L555.70 130 M455.30 25 L560.30 130 M459.90 25 L564.90 130 M464.50 25 L569.50 130 M469.10 25 L574.10 130 M473.70 25 L578.70 130 M478.30 25 L583.30 130 M482.90 25 L587.90 130 M487.50 25 L592.50 130 M492.10 25 L597.10 130 M496.70 25 L601.70 130 M501.30 25 L606.30 130 M505.90 25 L610.90 130 M510.50 25 L615.50 130 M515.10 25 L620.10 130 M519.70 25 L624.70 130 M524.30 25 L629.30 130 M528.90 25 L633.90 130 M533.50 25 L638.50 130 M538.10 25 L643.10 130 M542.70 25 L647.70 130" stroke="#ff4040" stroke-width="1.1" fill="none"/></g><g clip-path="url(#cb)"><path d="M40 125.48 H540 M40 130.26 H540 M40 135.04 H540 M40 139.82 H540 M40 144.60 H540 M40 149.38 H540 M40 154.16 H540 M40 158.94 H540 M40 163.72 H540 M40 168.50 H540 M40 173.28 H540 M40 178.06 H540 M40 182.84 H540 M40 187.62 H540 M40 192.40 H540 M40 197.18 H540 M40 201.96 H540 M40 206.74 H540 M40 211.52 H540 M40 216.30 H540 M40 221.08 H540 M40 225.86 H540 M40 230.64 H540 M40 235.42 H540 M40 240.20 H540 M40 244.98 H540" stroke="#2020ff" stroke-width="1.0" fill="none" shape-rendering="crispEdges"/></g><g clip-path="url(#ck)"><path d="M-83.30 240 L36.70 360 M-76.55 240 L43.45 360 M-69.80 240 L50.20 360 M-63.05 240 L56.95 360 M-56.30 240 L63.70 360 M-49.55 240 L70.45 360 M-42.80 240 L77.20 360 M-36.05 240 L83.95 360 M-29.30 240 L90.70 360 M-22.55 240 L97.45 360 M-15.80 240 L104.20 360 M-9.05 240 L110.95 360 M-2.30 240 L117.70 360 M4.45 240 L124.45 360 M11.20 240 L131.20 360 M17.95 240 L137.95 360 M24.70 240 L144.70 360 M31.45 240 L151.45 360 M38.20 240 L158.20 360 M44.95 240 L164.95 360 M51.70 240 L171.70 360 M58.45 240 L178.45 360 M65.20 240 L185.20 360 M71.95 240 L191.95 360 M78.70 240 L198.70 360 M85.45 240 L205.45 360 M92.20 240 L212.20 360 M98.95 240 L218.95 360 M105.70 240 L225.70 360 M112.45 240 L232.45 360 M119.20 240 L239.20 360 M125.95 240 L245.95 360 M132.70 240 L252.70 360 M139.45 240 L259.45 360 M146.20 240 L266.20 360 M152.95 240 L272.95 360 M159.70 240 L279.70 360 M166.45 240 L286.45 360 M173.20 240 L293.20 360 M179.95 240 L299.95 360 M186.70 240 L306.70 360 M193.45 240 L313.45 360 M200.20 240 L320.20 360 M206.95 240 L326.95 360 M213.70 240 L333.70 360 M220.45 240 L340.45 360 M227.20 240 L347.20 360 M233.95 240 L353.95 360 M240.70 240 L360.70 360 M247.45 240 L367.45 360 M254.20 240 L374.20 360 M260.95 240 L380.95 360 M267.70 240 L387.70 360 M274.45 240 L394.45 360 M281.20 240 L401.20 360 M287.95 240 L407.95 360 M294.70 240 L414.70 360 M301.45 240 L421.45 360 M308.20 240 L428.20 360 M314.95 240 L434.95 360 M321.70 240 L441.70 360 M328.45 240 L448.45 360 M335.20 240 L455.20 360 M341.95 240 L461.95 360 M348.70 240 L468.70 360 M355.45 240 L475.45 360 M362.20 240 L482.20 360 M368.95 240 L488.95 360 M375.70 240 L495.70 360 M382.45 240 L502.45 360 M389.20 240 L509.20 360 M395.95 240 L515.95 360 M402.70 240 L522.70 360 M409.45 240 L529.45 360 M416.20 240 L536.20 360 M422.95 240 L542.95 360 M429.70 240 L549.70 360 M436.45 240 L556.45 360 M443.20 240 L563.20 360 M449.95 240 L569.95 360 M456.70 240 L576.70 360 M463.45 240 L583.45 360 M470.20 240 L590.20 360 M476.95 240 L596.95 360 M483.70 240 L603.70 360 M490.45 240 L610.45 360 M497.20 240 L617.20 360 M503.95 240 L623.95 360 M510.70 240 L630.70 360 M517.45 240 L637.45 360 M524.20 240 L644.20 360 M530.95 240 L650.95 360 M537.70 240 L657.70 360 M544.45 240 L664.45 360 M33.85 240 L-86.15 360 M40.60 240 L-79.40 360 M47.35 240 L-72.65 360 M54.10 240 L-65.90 360 M60.85 240 L-59.15 360 M67.60 240 L-52.40 360 M74.35 240 L-45.65 360 M81.10 240 L-38.90 360 M87.85 240 L-32.15 360 M94.60 240 L-25.40 360 M101.35 240 L-18.65 360 M108.10 240 L-11.90 360 M114.85 240 L-5.15 360 M121.60 240 L1.60 360 M128.35 240 L8.35 360 M135.10 240 L15.10 360 M141.85 240 L21.85 360 M148.60 240 L28.60 360 M155.35 240 L35.35 360 M162.10 240 L42.10 360 M168.85 240 L48.85 360 M175.60 240 L55.60 360 M182.35 240 L62.35 360 M189.10 240 L69.10 360 M195.85 240 L75.85 360 M202.60 240 L82.60 360 M209.35 240 L89.35 360 M216.10 240 L96.10 360 M222.85 240 L102.85 360 M229.60 240 L109.60 360 M236.35 240 L116.35 360 M243.10 240 L123.10 360 M249.85 240 L129.85 360 M256.60 240 L136.60 360 M263.35 240 L143.35 360 M270.10 240 L150.10 360 M276.85 240 L156.85 360 M283.60 240 L163.60 360 M290.35 240 L170.35 360 M297.10 240 L177.10 360 M303.85 240 L183.85 360 M310.60 240 L190.60 360 M317.35 240 L197.35 360 M324.10 240 L204.10 360 M330.85 240 L210.85 360 M337.60 240 L217.60 360 M344.35 240 L224.35 360 M351.10 240 L231.10 360 M357.85 240 L237.85 360 M364.60 240 L244.60 360 M371.35 240 L251.35 360 M378.10 240 L258.10 360 M384.85 240 L264.85 360 M391.60 240 L271.60 360 M398.35 240 L278.35 360 M405.10 240 L285.10 360 M411.85 240 L291.85 360 M418.60 240 L298.60 360 M425.35 240 L305.35 360 M432.10 240 L312.10 360 M438.85 240 L318.85 360 M445.60 240 L325.60 360 M452.35 240 L332.35 360 M459.10 240 L339.10 360 M465.85 240 L345.85 360 M472.60 240 L352.60 360 M479.35 240 L359.35 360 M486.10 240 L366.10 360 M492.85 240 L372.85 360 M499.60 240 L379.60 360 M506.35 240 L386.35 360 M513.10 240 L393.10 360 M519.85 240 L399.85 360 M526.60 240 L406.60 360 M533.35 240 L413.35 360 M540.10 240 L420.10 360 M546.85 240 L426.85 360 M553.60 240 L433.60 360 M560.35 240 L440.35 360 M567.10 240 L447.10 360 M573.85 240 L453.85 360 M580.60 240 L460.60 360 M587.35 240 L467.35 360 M594.10 240 L474.10 360 M600.85 240 L480.85 360 M607.60 240 L487.60 360 M614.35 240 L494.35 360 M621.10 240 L501.10 360 M627.85 240 L507.85 360 M634.60 240 L514.60 360 M641.35 240 L521.35 360 M648.10 240 L528.10 360 M654.85 240 L534.85 360 M661.60 240 L541.60 360" stroke="#282828" stroke-width="1.0" fill="none"/></g><line x1="52.5" y1="103.8" x2="526.3" y2="120.6" stroke="#ff0000" stroke-width="1.6"/><line x1="52.5" y1="240.9" x2="526.6" y2="218.3" stroke="#0000ff" stroke-width="1.6"/><line x1="526.7" y1="343.0" x2="526.7" y2="356.6" stroke="#000" stroke-width="1.2"/><path d="M52.2 98.2 L52.9 95.8 L53.6 94.5 L54.4 89.1 L55.1 88.2 L55.8 88.8 L56.4 93.6 L57.0 94.3 L57.6 97.7 L58.2 98.2 L58.8 100.9 L59.4 100.0 L60.0 103.6 L60.6 99.6 L61.2 100.2 L61.8 98.2 L62.4 96.4 L63.0 92.3 L63.6 92.7 L64.2 93.8 L64.9 99.2 L65.5 100.0 L66.1 98.2 L66.7 95.0 L67.3 94.5 L67.9 93.1 L68.5 96.2 L69.1 96.4 L69.5 97.0 L70.0 93.6 L70.6 97.6 L71.2 97.7 L71.8 100.0 L72.3 98.2 L72.9 97.8 L73.4 92.6 L74.0 94.2 L74.5 91.8 L75.1 93.2 L75.8 92.3 L76.4 94.5 L77.0 96.5 L77.6 99.2 L78.2 100.9 L78.8 100.0 L79.4 95.8 L80.0 95.5 L80.5 94.3 L81.1 95.2 L81.6 93.6 L82.2 94.9 L82.7 93.6 L83.3 96.3 L83.9 97.7 L84.5 100.0 L85.1 98.6 L85.8 103.0 L86.4 102.7 L87.1 104.0 L87.8 102.0 L88.4 104.8 L89.1 102.7 L89.6 103.6 L90.2 100.4 L90.7 100.7 L91.3 97.1 L91.8 98.2 L92.4 95.6 L93.0 98.9 L93.6 96.4 L94.2 98.5 L94.9 96.6 L95.5 100.0 L96.1 99.0 L96.7 102.4 L97.3 102.7 L97.8 103.0 L98.4 98.5 L98.9 101.8 L99.5 97.6 L100.0 98.2 L100.6 95.9 L101.2 97.1 L101.8 96.4 L102.4 98.4 L103.0 97.2 L103.6 100.9 L104.2 100.2 L104.7 102.3 L105.3 100.9 L105.8 104.5 L106.4 103.6 L107.1 105.0 L107.8 102.4 L108.4 104.5 L109.1 103.6 L109.6 104.7 L110.2 101.5 L110.7 104.7 L111.3 102.4 L111.8 103.6 L112.3 101.4 L112.9 102.2 L113.4 101.2 L114.0 102.2 L114.5 100.0 L115.1 101.9 L115.6 97.9 L116.2 100.3 L116.7 98.6 L117.3 99.1 L117.9 98.5 L118.5 102.9 L119.1 101.8 L119.6 102.9 L120.2 99.1 L120.7 102.0 L121.3 98.8 L121.8 99.1 L122.3 97.8 L122.9 101.4 L123.4 98.0 L124.0 100.8 L124.5 100.0 L125.1 102.4 L125.6 102.0 L126.2 107.5 L126.7 107.2 L127.3 109.1 L127.9 103.3 L128.5 103.5 L129.1 98.2 L129.6 99.3 L130.2 94.7 L130.7 97.7 L131.3 93.7 L131.8 94.5 L132.4 95.3 L133.0 100.3 L133.6 101.8 L134.2 103.4 L134.7 102.4 L135.3 107.4 L135.8 106.9 L136.4 109.1 L137.0 104.9 L137.6 104.6 L138.2 100.9 L138.7 101.5 L139.3 99.4 L139.8 101.5 L140.4 98.4 L140.9 100.0 L141.5 97.3 L142.1 99.2 L142.7 97.3 L143.3 96.4 L143.9 94.6 L144.5 94.5 L145.1 95.7 L145.8 99.4 L146.4 100.0 L147.1 101.3 L147.8 96.9 L148.4 100.3 L149.1 98.2 L149.6 102.6 L150.0 103.6 L150.6 103.6 L151.2 100.3 L151.8 103.5 L152.4 101.2 L153.1 101.1 L153.7 100.4 L154.3 101.6 L154.9 98.7 L155.5 99.0 L156.1 98.3 L156.7 99.7 L157.2 97.0 L157.8 98.0 L158.4 97.0 L159.0 97.3 L159.6 95.6 L160.2 97.3 L160.8 95.9 L161.5 98.2 L162.1 95.2 L162.7 96.4 L163.3 98.1 L163.8 102.8 L164.4 104.4 L164.9 108.1 L165.5 110.0 L166.2 107.0 L166.8 101.6 L167.5 98.6 L168.2 94.5 L168.8 94.0 L169.4 88.2 L170.0 87.3 L170.6 89.6 L171.2 94.6 L171.8 96.4 L172.5 101.0 L173.2 102.1 L173.8 105.1 L174.5 108.0 L175.1 106.0 L175.6 101.4 L176.2 101.4 L176.7 96.8 L177.3 96.4 L178.0 96.8 L178.7 102.1 L179.3 102.4 L180.0 105.5 L180.6 101.4 L181.2 104.1 L181.8 99.4 L182.4 99.9 L183.0 96.1 L183.6 96.4 L184.2 96.4 L184.7 100.1 L185.3 99.1 L185.8 102.8 L186.4 102.7 L187.0 100.9 L187.6 97.8 L188.2 98.9 L188.8 92.6 L189.4 93.6 L190.0 91.0 L190.7 94.6 L191.3 93.6 L192.0 98.4 L192.7 98.2 L193.3 101.0 L193.8 99.4 L194.4 102.5 L194.9 103.2 L195.5 104.5 L196.1 101.7 L196.7 103.7 L197.2 100.9 L197.8 104.7 L198.4 100.6 L199.0 101.8 L199.6 100.9 L200.2 103.0 L200.8 98.3 L201.4 102.0 L202.1 98.7 L202.7 100.7 L203.3 98.5 L203.9 99.7 L204.5 99.0 L205.1 101.5 L205.7 99.8 L206.3 102.7 L207.0 102.9 L207.6 105.8 L208.2 105.5 L208.8 105.5 L209.4 102.8 L210.0 104.3 L210.6 100.7 L211.2 104.3 L211.8 101.8 L212.4 96.4 L213.0 90.2 L213.6 85.5 L214.2 88.7 L214.9 96.0 L215.5 98.2 L216.1 101.8 L216.7 101.0 L217.2 104.5 L217.8 104.2 L218.4 109.8 L219.0 110.0 L219.6 110.1 L220.2 105.2 L220.8 106.3 L221.5 100.7 L222.1 101.8 L222.7 99.0 L223.3 101.7 L223.9 99.4 L224.6 102.4 L225.2 101.1 L225.8 102.4 L226.4 102.7 L227.0 104.4 L227.6 101.5 L228.2 103.6 L228.8 100.1 L229.4 103.4 L230.0 101.4 L230.6 104.9 L231.2 105.7 L231.8 109.5 L232.4 103.1 L233.0 100.4 L233.6 93.2 L234.2 96.0 L234.9 93.7 L235.5 97.7 L236.1 92.0 L236.7 91.3 L237.3 87.7 L237.9 92.5 L238.5 94.5 L239.1 98.6 L239.7 96.3 L240.3 94.6 L240.9 92.3 L241.6 92.5 L242.2 87.0 L242.9 89.2 L243.6 85.9 L244.2 88.4 L244.9 87.8 L245.5 91.4 L246.1 91.4 L246.7 96.4 L247.3 97.7 L248.0 97.5 L248.7 94.2 L249.3 93.8 L250.0 92.3 L250.6 93.5 L251.2 91.1 L251.8 94.1 L252.5 90.9 L253.2 92.8 L253.8 87.9 L254.5 87.7 L255.1 86.2 L255.6 88.3 L256.2 83.8 L256.7 85.6 L257.3 85.0 L258.0 86.2 L258.6 84.2 L259.3 84.6 L260.0 84.1 L260.7 86.6 L261.4 85.3 L262.0 86.6 L262.7 86.8 L263.3 88.7 L263.8 85.1 L264.4 86.5 L264.9 85.5 L265.5 85.9 L266.2 84.4 L266.9 86.1 L267.5 83.5 L268.2 83.2 L268.9 80.3 L269.5 83.1 L270.2 79.3 L270.9 81.4 L271.4 79.0 L272.0 82.0 L272.5 80.5 L273.1 82.4 L273.6 81.4 L274.2 82.1 L274.7 80.6 L275.3 83.1 L275.8 83.5 L276.4 84.1 L276.9 81.9 L277.5 85.4 L278.0 83.5 L278.6 86.5 L279.1 85.9 L279.8 85.7 L280.5 83.8 L281.1 85.1 L281.8 82.3 L282.5 77.9 L283.1 69.5 L283.8 73.8 L284.5 74.1 L285.1 76.1 L285.8 76.9 L286.4 79.5 L287.0 77.1 L287.6 80.3 L288.2 77.7 L288.9 80.7 L289.5 79.4 L290.2 84.6 L290.9 85.0 L291.4 84.3 L292.0 80.8 L292.5 81.8 L293.1 79.0 L293.6 78.6 L294.2 78.8 L294.7 80.3 L295.3 77.7 L295.8 81.8 L296.4 81.4 L296.9 80.8 L297.5 75.6 L298.0 77.4 L298.6 72.2 L299.1 71.4 L299.7 66.4 L300.3 64.1 L300.9 59.5 L301.5 60.8 L302.1 58.5 L302.7 61.4 L303.3 64.5 L303.9 72.9 L304.5 77.7 L305.1 77.2 L305.8 73.7 L306.4 74.1 L306.9 71.3 L307.5 73.1 L308.0 70.0 L308.6 69.7 L309.1 68.6 L309.8 68.4 L310.5 66.9 L311.1 67.7 L311.8 65.9 L312.5 65.4 L313.1 64.2 L313.8 65.2 L314.5 63.2 L315.1 65.6 L315.8 64.6 L316.4 68.6 L316.9 67.1 L317.5 70.4 L318.0 68.0 L318.6 69.6 L319.1 68.6 L319.8 69.8 L320.5 67.4 L321.1 69.2 L321.8 66.8 L322.4 69.3 L323.0 68.9 L323.6 73.2 L324.2 71.4 L324.7 76.3 L325.3 74.3 L325.8 76.3 L326.4 76.8 L327.0 78.0 L327.6 74.7 L328.2 77.9 L328.8 75.0 L329.4 77.8 L330.0 77.7 L330.7 80.2 L331.3 78.7 L332.0 79.5 L332.6 82.6 L333.2 89.6 L333.9 89.7 L334.5 96.0 L335.1 89.5 L335.8 89.5 L336.4 81.6 L337.0 79.5 L337.6 79.1 L338.1 83.0 L338.7 82.9 L339.3 86.1 L339.9 85.4 L340.4 90.3 L341.0 90.5 L341.6 91.5 L342.1 91.2 L342.7 94.0 L343.2 90.3 L343.8 94.1 L344.4 91.9 L344.9 95.8 L345.5 94.5 L346.1 95.0 L346.7 92.3 L347.2 93.7 L347.8 91.7 L348.4 92.1 L349.0 89.8 L349.6 92.0 L350.1 89.0 L350.7 90.3 L351.3 88.5 L351.9 89.4 L352.4 88.2 L353.0 88.7 L353.6 87.7 L354.2 91.0 L354.8 89.6 L355.4 93.2 L355.9 92.2 L356.5 96.0 L357.1 97.0 L357.7 98.6 L358.3 95.7 L358.9 96.9 L359.5 92.6 L360.0 94.0 L360.6 89.8 L361.2 91.9 L361.8 89.0 L362.4 90.9 L363.0 90.3 L363.6 94.1 L364.2 93.7 L364.8 96.7 L365.4 95.6 L366.0 98.6 L366.6 94.6 L367.1 97.4 L367.7 93.0 L368.3 93.7 L368.9 90.6 L369.4 89.4 L370.0 87.7 L370.6 88.8 L371.2 85.4 L371.8 88.0 L372.4 85.6 L373.1 89.5 L373.7 86.7 L374.3 89.1 L374.9 85.4 L375.5 87.7 L376.1 85.2 L376.8 86.5 L377.4 81.6 L378.0 82.3 L378.6 80.7 L379.2 84.4 L379.9 80.4 L380.5 84.9 L381.1 81.4 L381.7 83.5 L382.4 82.5 L383.0 83.9 L383.6 83.6 L384.2 82.4 L384.8 76.7 L385.4 76.5 L386.0 74.0 L386.6 76.4 L387.2 73.9 L387.7 77.6 L388.3 76.3 L388.9 79.1 L389.5 77.7 L390.1 80.8 L390.6 79.1 L391.2 84.3 L391.8 83.6 L392.4 81.6 L393.0 76.1 L393.6 75.6 L394.2 67.9 L394.8 67.4 L395.4 61.7 L396.0 60.5 L396.6 59.6 L397.1 64.6 L397.7 62.7 L398.3 67.0 L398.9 65.0 L399.4 70.8 L400.0 70.2 L400.6 69.6 L401.2 65.2 L401.8 66.8 L402.5 63.9 L403.1 63.7 L403.7 61.1 L404.3 60.2 L404.9 56.9 L405.5 60.5 L406.0 57.1 L406.6 58.0 L407.2 55.9 L407.8 56.9 L408.4 55.8 L409.0 57.1 L409.7 55.8 L410.3 58.5 L410.9 57.1 L411.5 57.3 L412.1 56.1 L412.8 57.3 L413.4 55.7 L414.0 56.7 L414.7 53.2 L415.3 56.2 L415.9 53.2 L416.6 54.1 L417.2 53.0 L417.8 53.8 L418.4 51.5 L418.9 53.3 L419.5 51.0 L420.1 53.0 L420.7 49.1 L421.3 52.7 L421.8 48.1 L422.4 51.5 L423.0 50.1 L423.6 50.7 L424.3 47.0 L424.9 50.6 L425.5 46.9 L426.2 49.0 L426.8 46.9 L427.4 47.7 L428.1 44.9 L428.7 46.7 L429.3 46.3 L429.9 48.4 L430.5 45.4 L431.2 49.0 L431.8 45.0 L432.4 49.2 L433.0 47.3 L433.6 48.7 L434.1 48.1 L434.7 51.9 L435.2 50.8 L435.8 53.0 L436.4 49.2 L437.0 49.2 L437.6 44.7 L438.3 44.0 L438.9 40.4 L439.5 40.4 L440.1 37.2 L440.7 42.3 L441.4 44.9 L442.0 52.2 L442.6 55.0 L443.3 59.4 L444.0 61.0 L444.8 60.5 L445.5 58.0 L446.1 56.6 L446.7 51.4 L447.3 50.3 L447.9 47.1 L448.5 44.4 L449.2 47.0 L449.8 52.7 L450.5 55.0 L451.2 59.8 L452.0 61.0 L452.6 62.1 L453.2 58.2 L453.9 61.2 L454.5 58.5 L455.1 60.1 L455.7 57.5 L456.3 61.3 L457.0 59.0 L457.6 63.8 L458.2 61.4 L458.8 63.0 L459.4 64.1 L459.9 67.7 L460.5 66.6 L461.0 70.6 L461.6 71.6 L462.2 71.6 L462.9 70.4 L463.5 72.5 L464.1 70.3 L464.7 73.4 L465.4 69.9 L466.0 71.6 L466.6 70.4 L467.2 75.1 L467.8 72.0 L468.4 75.9 L469.0 73.7 L469.6 77.9 L470.2 77.4 L470.8 79.6 L471.4 77.2 L472.0 80.7 L472.7 78.9 L473.3 82.8 L473.9 79.8 L474.5 83.1 L475.1 81.8 L475.7 86.5 L476.3 83.4 L477.0 88.1 L477.6 85.4 L478.2 88.7 L478.8 88.8 L479.4 90.0 L480.0 88.1 L480.6 92.5 L481.3 89.7 L481.9 92.2 L482.5 90.2 L483.1 93.1 L483.7 92.2 L484.3 95.2 L484.8 94.6 L485.4 96.5 L486.0 96.0 L486.6 97.9 L487.3 95.3 L487.9 97.7 L488.5 95.4 L489.2 97.7 L489.8 96.4 L490.4 100.2 L491.1 96.6 L491.7 98.9 L492.3 98.1 L493.0 101.3 L493.6 98.6 L494.2 101.2 L494.9 100.5 L495.5 103.5 L496.1 101.3 L496.8 102.8 L497.4 103.1 L498.0 105.1 L498.6 102.1 L499.1 104.7 L499.7 102.7 L500.3 106.1 L500.9 104.2 L501.5 106.5 L502.0 103.4 L502.6 107.4 L503.2 106.0 L503.8 108.0 L504.4 107.1 L505.0 110.8 L505.7 110.1 L506.3 113.5 L506.9 112.4 L507.5 116.0 L508.1 112.5 L508.6 114.4 L509.2 111.8 L509.7 113.4 L510.3 110.3 L510.9 112.0 L511.5 108.4 L512.1 111.0 L512.8 108.7 L513.4 112.6 L514.0 110.5 L514.6 111.7 L515.2 110.4 L515.8 113.3 L516.4 109.6 L517.1 112.1 L517.7 109.9 L518.3 112.0 L518.9 111.7 L519.5 114.3 L520.1 111.5 L520.6 115.3 L521.2 112.0 L521.8 114.6 L522.4 114.3 L523.0 118.0 L523.5 117.4 L524.1 120.6 L524.7 121.8 L525.4 121.3 L526.1 120.3" fill="none" stroke="#ff0000" stroke-width="1.4" stroke-linejoin="miter" stroke-miterlimit="4"/><path d="M52.5 240.3 L53.3 236.4 L54.2 238.2 L55.0 234.3 L55.8 234.6 L56.5 234.4 L57.3 234.8 L58.2 233.4 L59.1 236.9 L60.0 235.8 L60.9 236.9 L61.8 234.5 L62.7 236.3 L63.6 234.8 L64.4 237.0 L65.2 235.5 L66.0 237.8 L67.1 236.3 L68.2 235.8 L69.0 235.8 L69.7 238.6 L70.5 238.8 L71.6 237.0 L72.7 232.4 L73.6 235.2 L74.6 232.1 L75.5 234.8 L76.4 233.8 L77.2 236.2 L78.1 234.9 L79.0 235.8 L79.9 236.0 L80.9 236.5 L81.8 236.8 L82.7 238.4 L83.6 237.3 L84.5 238.8 L85.3 238.9 L86.0 242.6 L86.8 241.8 L87.6 241.1 L88.4 237.0 L89.2 237.0 L90.0 234.8 L90.9 233.6 L91.8 232.4 L92.7 234.7 L93.6 235.3 L94.5 237.3 L95.4 234.6 L96.4 236.3 L97.3 232.8 L98.2 235.8 L99.1 235.6 L100.0 237.8 L101.0 235.1 L102.0 237.7 L103.0 235.3 L104.0 237.9 L105.0 235.8 L106.0 238.8 L107.0 236.2 L108.0 238.4 L109.0 235.8 L110.0 237.8 L111.0 236.5 L112.0 239.8 L113.0 236.2 L114.0 236.8 L115.0 234.8 L116.0 237.5 L117.0 235.6 L118.0 238.3 L119.0 235.9 L120.0 236.7 L121.0 234.3 L121.9 234.6 L122.7 231.1 L123.6 232.3 L124.4 233.0 L125.2 237.6 L126.0 237.8 L127.0 237.5 L128.0 234.0 L129.0 234.8 L130.0 234.3 L131.0 238.4 L132.0 238.8 L133.0 238.3 L134.0 233.6 L135.0 233.8 L136.0 233.6 L137.0 237.4 L138.0 237.8 L139.0 237.2 L140.0 235.0 L141.0 234.8 L142.0 234.6 L143.0 237.8 L144.0 238.8 L145.0 239.1 L146.0 235.8 L147.0 240.5 L148.0 244.1 L149.0 241.9 L150.0 236.0 L150.8 233.8 L151.7 228.5 L152.6 229.0 L153.4 224.8 L154.2 227.9 L155.0 229.0 L156.0 230.4 L157.0 228.2 L158.0 230.0 L159.0 229.2 L160.0 231.6 L161.0 231.5 L162.0 231.2 L163.0 229.0 L164.0 229.5 L165.0 227.7 L166.0 231.0 L167.0 229.6 L168.0 230.0 L168.8 227.2 L169.5 229.2 L170.3 226.6 L171.2 229.2 L172.1 227.7 L173.0 229.0 L173.8 226.1 L174.7 226.5 L175.6 223.6 L176.4 223.7 L177.3 223.8 L178.1 225.7 L179.0 226.0 L179.9 226.7 L180.8 223.5 L181.6 223.8 L182.5 221.7 L183.3 223.9 L184.2 222.1 L185.0 223.3 L186.0 222.2 L187.0 224.1 L188.0 221.8 L188.8 227.1 L189.5 230.8 L190.5 228.3 L191.4 222.7 L192.4 218.9 L193.3 217.4 L194.2 218.0 L195.1 215.6 L196.0 216.7 L196.9 215.9 L197.8 217.5 L198.7 215.2 L199.6 216.5 L200.5 214.6 L201.4 214.4 L202.3 213.1 L203.2 214.8 L204.1 212.1 L205.0 212.4 L205.9 211.4 L206.8 212.5 L207.7 209.9 L208.5 210.6 L209.4 208.2 L210.3 209.9 L211.3 207.0 L212.3 205.0 L213.3 202.5 L214.3 201.2 L215.3 197.1 L216.3 196.5 L217.2 194.0 L218.1 194.9 L219.0 193.0 L219.9 193.0 L220.8 192.0 L221.7 192.3 L222.6 189.2 L223.4 191.7 L224.3 187.8 L225.2 189.1 L226.1 186.6 L227.0 189.0 L227.9 184.9 L228.8 186.4 L229.7 184.6 L230.5 182.6 L231.3 178.2 L232.1 177.1 L233.1 170.4 L234.2 165.2 L235.2 166.4 L236.3 168.2 L237.5 173.5 L238.3 175.9 L239.1 174.7 L239.9 178.3 L240.7 179.5 L241.6 179.9 L242.5 178.0 L243.5 181.3 L244.5 183.0 L245.5 181.0 L246.3 172.6 L247.2 166.5 L248.0 167.1 L248.7 170.4 L249.5 169.5 L250.3 170.1 L251.2 168.3 L252.0 169.7 L252.9 167.8 L253.8 167.9 L254.7 165.7 L255.6 166.4 L256.5 165.2 L257.4 164.4 L258.3 163.3 L259.2 162.9 L260.1 161.4 L261.0 160.8 L261.9 158.5 L262.8 160.0 L263.7 156.1 L264.6 159.1 L265.5 156.3 L266.4 158.6 L267.3 156.3 L268.2 158.1 L269.1 156.8 L270.0 157.8 L271.0 155.0 L271.9 156.0 L272.9 153.3 L273.9 152.9 L274.9 147.8 L275.9 147.3 L276.9 145.2 L277.9 145.2 L278.9 142.9 L279.9 141.0 L280.8 136.9 L281.8 134.0 L282.8 136.8 L283.8 140.8 L284.8 142.9 L285.8 140.8 L286.7 136.7 L287.7 136.3 L288.6 133.5 L289.5 134.9 L290.5 135.4 L291.4 137.6 L292.3 138.4 L293.1 138.4 L294.0 137.5 L295.3 147.3 L296.3 150.3 L297.1 150.2 L298.0 147.0 L298.9 147.6 L299.7 145.9 L300.6 148.7 L301.5 148.3 L302.4 152.2 L303.3 149.9 L304.2 153.3 L305.2 155.2 L306.2 161.1 L307.2 163.7 L308.2 169.7 L309.1 172.3 L310.1 178.6 L311.1 182.2 L312.1 187.0 L313.1 190.0 L314.1 195.1 L315.1 197.5 L316.1 202.0 L317.0 203.8 L318.0 207.9 L318.9 208.4 L319.9 211.1 L320.9 211.2 L321.9 214.4 L322.9 215.5 L323.9 221.6 L324.9 223.3 L325.9 227.4 L326.9 228.3 L327.9 233.8 L328.9 230.9 L329.9 229.8 L330.9 227.8 L331.9 231.7 L332.8 232.5 L333.8 235.3 L334.8 232.5 L335.8 233.0 L336.8 229.3 L337.8 230.1 L338.8 228.2 L339.8 227.8 L340.7 226.4 L341.6 228.0 L342.5 225.8 L343.4 227.0 L344.3 226.3 L345.2 228.1 L346.1 227.3 L346.9 228.7 L347.8 227.8 L348.7 229.3 L349.7 225.9 L350.7 226.5 L351.7 224.8 L352.6 226.1 L353.4 223.8 L354.3 225.3 L355.1 223.0 L356.0 224.7 L356.8 221.9 L357.7 223.3 L358.6 221.2 L359.5 221.2 L360.3 219.4 L361.2 218.7 L362.1 217.4 L363.0 218.2 L363.9 214.2 L364.8 216.6 L365.7 212.3 L366.6 212.9 L367.5 212.2 L368.4 213.0 L369.3 209.5 L370.2 211.9 L371.1 209.9 L372.1 208.4 L373.1 204.1 L374.1 202.5 L375.0 201.1 L375.9 203.5 L376.7 200.9 L377.6 202.4 L378.5 201.0 L379.4 199.9 L380.3 194.9 L381.2 196.4 L382.1 190.8 L383.0 190.6 L383.9 187.7 L384.8 188.8 L385.7 186.4 L386.6 186.8 L387.5 184.6 L388.4 183.9 L389.3 181.2 L390.1 182.4 L391.0 177.9 L391.9 178.6 L392.8 176.1 L393.7 177.9 L394.6 174.8 L395.5 174.6 L396.4 172.7 L397.3 173.7 L398.2 170.2 L399.1 170.4 L400.0 168.3 L400.9 167.5 L401.8 165.4 L402.7 165.6 L403.6 162.0 L404.6 164.5 L405.5 161.6 L406.5 163.5 L407.6 162.6 L408.6 162.5 L409.6 153.0 L410.4 153.4 L411.2 152.0 L412.0 152.5 L412.8 151.5 L413.5 154.9 L414.3 154.0 L415.4 153.6 L416.5 151.5 L417.2 152.0 L418.0 150.5 L419.0 152.5 L420.0 154.0 L420.9 156.0 L421.8 155.8 L422.8 158.9 L423.7 156.5 L424.7 159.3 L425.5 159.8 L426.3 161.0 L427.1 160.5 L428.0 163.7 L428.8 162.2 L429.7 165.3 L430.5 164.2 L431.3 166.6 L432.1 165.6 L433.0 169.4 L433.8 168.0 L434.6 171.5 L435.4 169.1 L436.2 171.1 L437.0 168.7 L437.8 168.4 L438.9 170.5 L439.9 174.6 L440.9 177.3 L442.0 181.4 L443.0 183.0 L444.0 185.8 L445.1 184.6 L446.1 186.1 L447.1 184.4 L448.2 185.1 L449.0 185.3 L449.8 188.5 L450.6 187.5 L451.4 190.3 L452.4 188.8 L453.5 192.4 L454.5 191.4 L455.5 194.1 L456.6 192.9 L457.6 196.6 L458.6 198.9 L459.7 202.9 L460.8 196.6 L461.8 193.5 L462.9 199.4 L463.9 208.1 L464.9 205.5 L466.0 207.7 L467.0 205.0 L467.8 205.2 L468.6 203.1 L469.4 205.0 L470.2 203.9 L471.2 206.6 L472.3 204.7 L473.3 208.1 L474.3 208.4 L475.4 211.6 L476.4 213.3 L477.2 212.2 L478.0 207.6 L478.8 208.8 L479.6 205.0 L480.6 209.8 L481.7 210.2 L482.7 215.4 L483.5 214.3 L484.4 215.2 L485.2 210.7 L486.1 212.5 L486.9 210.2 L487.8 210.8 L488.6 206.0 L489.5 206.8 L490.4 203.6 L491.2 205.7 L492.1 202.9 L493.1 210.0 L494.2 216.4 L495.0 215.5 L495.8 210.4 L496.6 209.7 L497.4 207.0 L498.4 210.7 L499.5 210.8 L500.5 213.3 L501.5 212.6 L502.6 215.6 L503.6 215.4 L504.4 215.5 L505.3 213.3 L506.1 215.1 L507.0 213.2 L507.8 213.3 L508.6 211.8 L509.5 214.3 L510.3 214.5 L511.2 216.0 L512.0 215.4 L513.0 219.2 L514.1 218.2 L515.1 221.7 L515.9 218.5 L516.7 219.5 L517.5 215.5 L518.3 215.4 L519.1 214.8 L519.9 216.3 L520.8 214.8 L521.6 216.3 L522.4 216.4 L523.2 216.8 L524.1 215.2 L524.9 217.4 L525.8 215.7 L526.6 217.5" fill="none" stroke="#0000ff" stroke-width="1.9" stroke-linejoin="miter" stroke-miterlimit="4"/><path d="M52.7 343.1 L53.4 342.0 L54.1 342.2 L54.8 340.4 L55.5 341.3 L56.8 339.5 L57.5 339.2 L58.2 337.2 L59.5 334.9 L60.5 338.1 L61.8 340.8 L62.5 341.2 L63.2 344.5 L64.5 340.8 L65.2 340.1 L65.9 336.3 L66.6 335.8 L67.3 334.9 L68.2 335.6 L69.1 336.3 L69.8 340.1 L70.5 339.9 L71.8 343.1 L72.5 341.2 L73.2 340.8 L74.5 337.7 L75.2 338.9 L75.9 339.0 L76.6 343.3 L77.3 342.7 L78.6 346.3 L79.3 346.2 L80.0 348.6 L80.7 345.3 L81.4 345.8 L82.7 342.7 L83.4 341.6 L84.1 338.1 L84.8 337.4 L85.5 333.6 L86.8 333.1 L87.7 336.3 L88.6 341.8 L89.3 342.0 L90.0 343.1 L90.7 340.0 L91.4 339.9 L92.7 342.7 L93.6 346.2 L94.5 345.4 L95.2 345.3 L95.9 342.7 L96.6 345.4 L97.3 344.5 L98.6 339.9 L99.3 339.7 L100.0 342.7 L100.9 342.2 L101.8 342.2 L102.7 340.4 L103.6 342.2 L104.3 342.8 L105.0 346.3 L105.7 346.8 L106.4 349.0 L107.7 349.5 L108.4 347.1 L109.1 344.5 L109.8 346.1 L110.5 343.6 L111.8 343.1 L112.7 338.1 L113.6 339.9 L114.5 345.8 L115.2 347.6 L115.9 347.2 L116.8 345.4 L117.5 343.0 L118.2 344.0 L119.5 341.8 L120.2 345.0 L120.9 344.0 L121.6 346.6 L122.3 345.8 L123.6 344.9 L124.3 343.8 L125.0 346.8 L125.7 345.3 L126.4 345.8 L127.7 348.1 L128.4 349.6 L129.1 347.2 L129.8 348.7 L130.5 348.1 L131.8 350.8 L132.5 347.2 L133.2 347.7 L134.5 346.3 L135.2 347.3 L135.9 344.0 L136.6 343.8 L137.3 343.1 L138.6 341.3 L139.7 338.1 L140.9 342.2 L141.6 343.6 L142.3 345.8 L143.6 347.2 L144.3 348.9 L145.0 349.5 L145.7 352.0 L146.4 349.9 L147.7 345.8 L148.4 343.6 L149.1 343.6 L150.0 343.3 L150.9 346.8 L151.8 346.1 L152.7 348.6 L153.6 345.1 L154.6 344.6 L155.5 341.3 L156.2 344.7 L157.0 345.3 L158.0 347.9 L159.0 347.7 L159.8 347.7 L160.5 343.3 L161.4 344.2 L162.3 341.8 L163.4 347.9 L164.5 349.5 L165.3 349.8 L166.2 343.8 L167.0 344.3 L167.8 341.2 L168.7 341.8 L169.5 339.9 L170.2 344.7 L171.0 345.3 L171.8 349.3 L172.7 348.6 L173.6 348.1 L174.5 343.3 L175.2 343.0 L175.9 339.9 L176.7 343.8 L177.5 344.3 L178.2 343.1 L179.0 340.8 L179.9 344.6 L180.9 343.1 L181.8 346.3 L182.9 344.0 L184.0 343.3 L184.8 342.7 L185.6 344.7 L186.4 342.3 L187.2 345.5 L187.9 343.7 L188.7 344.8 L189.8 344.2 L190.9 347.2 L191.7 343.1 L192.4 341.1 L193.4 339.4 L194.5 338.6 L195.4 343.6 L196.4 350.3 L197.7 336.3 L198.7 338.7 L199.7 337.4 L200.6 340.7 L201.6 339.7 L202.5 342.6 L203.4 342.3 L204.2 340.4 L205.1 336.5 L205.9 336.2 L206.8 336.2 L207.7 340.1 L208.6 336.7 L209.5 339.8 L210.4 338.2 L211.3 341.6 L212.3 338.0 L213.2 338.6 L214.0 336.7 L214.9 336.8 L215.7 333.7 L216.5 329.7 L217.3 324.9 L218.1 321.4 L218.9 322.4 L219.8 327.0 L220.6 327.6 L221.4 330.0 L222.2 331.5 L223.0 333.7 L223.9 330.5 L224.8 332.0 L225.8 327.9 L226.7 328.8 L227.6 325.9 L228.6 327.9 L229.5 324.8 L230.4 325.1 L231.3 324.4 L232.2 327.9 L233.2 325.5 L234.1 327.6 L235.0 322.5 L235.9 321.7 L236.9 314.4 L237.8 312.8 L238.7 311.8 L239.7 314.5 L240.6 312.1 L241.5 314.1 L242.5 312.2 L243.5 312.3 L244.4 308.2 L245.4 310.4 L246.4 307.9 L247.3 309.9 L248.2 309.1 L249.1 310.8 L250.0 310.4 L250.9 311.8 L251.8 310.3 L252.8 311.9 L253.7 310.4 L254.6 310.4 L255.5 307.1 L256.5 307.3 L257.4 304.3 L258.3 304.5 L259.2 300.8 L260.2 302.4 L261.1 300.6 L262.0 302.3 L263.0 298.9 L263.9 300.7 L264.8 300.6 L265.7 300.1 L266.6 297.7 L267.6 301.1 L268.5 298.1 L269.4 296.3 L270.3 292.0 L271.2 292.2 L272.1 288.3 L273.0 289.7 L274.0 288.6 L274.9 290.9 L275.8 290.8 L276.7 290.1 L277.6 286.2 L278.6 286.9 L279.5 284.6 L280.4 285.2 L281.4 282.2 L282.3 283.8 L283.2 283.4 L284.1 283.9 L285.0 279.8 L286.0 281.4 L286.9 279.7 L287.8 279.3 L288.7 276.0 L289.6 277.5 L290.5 276.0 L291.4 276.2 L292.4 274.3 L293.3 276.8 L294.2 274.8 L295.0 276.3 L295.9 276.4 L296.7 278.5 L297.5 276.8 L298.3 278.9 L299.1 276.0 L300.0 279.2 L301.0 278.4 L301.9 282.9 L302.8 284.6 L303.7 287.6 L304.6 287.3 L305.6 293.2 L306.5 293.2 L307.4 296.1 L308.4 296.2 L309.3 299.0 L310.2 300.6 L311.1 304.9 L312.0 306.1 L313.0 311.7 L313.9 312.8 L314.8 317.3 L315.7 317.2 L316.6 320.9 L317.5 322.7 L318.4 327.0 L319.3 327.3 L320.2 330.3 L321.0 328.3 L321.9 332.4 L322.7 332.6 L323.6 334.4 L324.6 336.9 L325.5 343.1 L326.5 344.5 L327.4 347.1 L328.4 347.4 L329.3 350.2 L330.3 346.7 L331.2 346.4 L332.2 343.0 L333.2 346.9 L334.1 346.7 L335.1 351.6 L336.0 349.7 L337.0 348.7 L337.9 347.3 L338.9 352.0 L339.8 350.1 L340.8 354.5 L341.8 351.4 L342.7 353.6 L343.7 351.6 L344.6 352.5 L345.6 346.7 L346.5 347.3 L347.5 349.0 L348.4 353.9 L349.4 354.5 L350.3 356.0 L351.1 354.1 L352.0 356.0 L352.8 356.0 L353.7 356.0 L354.7 354.5 L355.6 354.1 L356.6 351.6 L357.5 351.2 L358.3 349.0 L359.2 350.6 L360.0 347.5 L360.9 348.8 L361.8 350.5 L362.8 354.8 L363.7 354.5 L364.7 353.3 L365.6 346.7 L366.6 345.9 L367.5 343.6 L368.3 347.5 L369.2 343.6 L370.0 344.8 L370.9 344.5 L371.8 345.7 L372.6 342.8 L373.5 343.5 L374.3 340.6 L375.2 341.6 L376.2 338.4 L377.1 338.8 L378.1 335.9 L379.0 335.3 L380.0 328.7 L380.9 327.3 L381.9 325.4 L382.8 326.0 L383.8 324.4 L384.8 322.2 L385.7 314.6 L386.7 311.5 L387.6 310.2 L388.6 313.4 L389.5 313.0 L390.5 311.1 L391.4 306.9 L392.4 305.8 L393.3 303.3 L394.1 305.1 L395.0 302.2 L395.8 305.7 L396.7 302.9 L397.6 302.5 L398.6 296.3 L399.5 295.8 L400.5 293.4 L401.4 292.5 L402.4 288.6 L403.1 284.2 L403.9 275.7 L404.8 276.3 L405.8 275.9 L406.7 277.1 L407.6 274.6 L408.4 274.9 L409.3 270.8 L410.1 271.4 L411.0 268.5 L411.9 268.7 L412.7 265.0 L413.6 263.5 L414.4 261.2 L415.3 259.9 L416.2 258.9 L417.0 258.9 L417.9 256.1 L418.7 259.7 L419.6 257.1 L420.6 255.9 L421.5 253.0 L422.5 252.8 L423.4 251.2 L424.3 251.3 L425.3 257.1 L426.2 257.1 L427.2 255.6 L428.0 254.6 L428.8 250.2 L429.6 249.9 L430.0 249.3 L430.8 252.4 L431.7 251.6 L432.5 254.2 L433.3 254.7 L434.1 257.1 L434.9 257.0 L435.7 258.5 L436.7 259.5 L437.6 265.0 L438.6 265.6 L439.6 269.9 L440.5 272.0 L441.5 275.6 L442.4 276.9 L443.4 280.3 L444.3 281.3 L445.3 281.4 L446.3 278.5 L447.1 286.1 L447.8 288.9 L448.6 295.6 L449.6 295.2 L450.5 300.0 L451.5 299.9 L452.4 300.7 L453.2 298.3 L454.1 300.3 L454.9 297.1 L455.8 298.5 L456.7 299.8 L457.7 305.0 L458.6 305.7 L459.6 308.2 L460.5 307.8 L461.5 309.9 L462.4 311.0 L463.4 316.4 L464.3 317.1 L465.3 315.4 L466.2 312.2 L467.2 311.4 L468.2 311.3 L469.1 315.5 L470.1 314.3 L471.0 319.9 L472.0 320.0 L472.9 324.3 L473.9 319.9 L474.8 321.4 L475.8 317.1 L476.7 319.2 L477.7 318.8 L478.6 321.4 L479.5 321.8 L480.3 325.1 L481.2 322.4 L482.0 327.0 L482.9 325.7 L483.9 327.4 L484.8 323.6 L485.8 326.8 L486.8 323.4 L487.7 324.8 L488.7 324.3 L489.6 327.1 L490.6 327.1 L491.5 328.5 L492.4 327.8 L493.2 329.8 L494.1 327.5 L494.9 327.6 L495.8 327.1 L496.7 327.1 L497.5 324.6 L498.4 326.7 L499.2 325.9 L500.1 325.7 L501.0 324.1 L501.8 326.6 L502.7 324.6 L503.5 328.4 L504.4 327.1 L505.3 328.3 L506.1 323.3 L507.0 325.9 L507.8 321.8 L508.7 322.8 L509.6 323.5 L510.4 326.4 L511.3 324.1 L512.1 328.0 L513.0 327.1 L513.9 330.2 L514.7 331.1 L515.6 337.9 L516.4 338.3 L517.3 341.4 L518.2 337.6 L519.2 337.0 L520.1 332.8 L521.1 333.4 L522.0 329.2 L523.0 328.5 L523.9 330.8 L524.9 334.8 L525.8 337.1 L526.7 343.0" fill="none" stroke="#000" stroke-width="2.0" stroke-linejoin="miter" stroke-miterlimit="4"/><rect x="52.0" y="4.1" width="476.70" height="352.50" fill="none" stroke="#000" stroke-width="1.7"/><path d="M52.00 356.6 V363.8 M104.97 356.6 V363.8 M157.93 356.6 V363.8 M210.90 356.6 V363.8 M263.87 356.6 V363.8 M316.83 356.6 V363.8 M369.80 356.6 V363.8 M422.77 356.6 V363.8 M475.73 356.6 V363.8 M528.70 356.6 V363.8 M78.48 356.6 V360.6 M131.45 356.6 V360.6 M184.42 356.6 V360.6 M237.38 356.6 V360.6 M290.35 356.6 V360.6 M343.32 356.6 V360.6 M396.28 356.6 V360.6 M449.25 356.6 V360.6 M502.22 356.6 V360.6" stroke="#000" stroke-width="1.7"/><text x="52.40" y="381.8" font-size="16" text-anchor="middle" letter-spacing="0.8">100</text><text x="105.37" y="381.8" font-size="16" text-anchor="middle" letter-spacing="0.8">200</text><text x="158.33" y="381.8" font-size="16" text-anchor="middle" letter-spacing="0.8">300</text><text x="211.30" y="381.8" font-size="16" text-anchor="middle" letter-spacing="0.8">400</text><text x="264.27" y="381.8" font-size="16" text-anchor="middle" letter-spacing="0.8">500</text><text x="317.23" y="381.8" font-size="16" text-anchor="middle" letter-spacing="0.8">600</text><text x="370.20" y="381.8" font-size="16" text-anchor="middle" letter-spacing="0.8">700</text><text x="423.17" y="381.8" font-size="16" text-anchor="middle" letter-spacing="0.8">800</text><text x="476.13" y="381.8" font-size="16" text-anchor="middle" letter-spacing="0.8">900</text><text x="529.10" y="381.8" font-size="16" text-anchor="middle" letter-spacing="0.8">1000</text><text x="239.7" y="412.0" font-size="18.4">Temperature (<tspan font-size="9.8" dy="-10.3" dx="0.1">o</tspan><tspan dy="10.3" dx="0.9">C)</tspan></text><text transform="translate(18.1,238.6) rotate(-90)" font-size="18.8">TCD signal (a.u.)</text><text x="58.9" y="77.2" font-size="16" style="fill:#ff0000;stroke:#ff0000" letter-spacing="0.55">CeO<tspan font-size="10.3" dy="6.6" style="stroke-width:0.15px">2</tspan><tspan dy="-6.6">-NC</tspan></text><text x="59.9" y="217.1" font-size="16" style="fill:#0000ff;stroke:#0000ff" letter-spacing="0.55">CeO<tspan font-size="10.3" dy="6.6" style="stroke-width:0.15px">2</tspan><tspan dy="-6.6">-NR</tspan></text><text x="60.6" y="319.5" font-size="16" style="fill:#000;stroke:#000" letter-spacing="0.55">CeO<tspan font-size="10.3" dy="6.6" style="stroke-width:0.15px">2</tspan><tspan dy="-6.6">-NP</tspan></text><text x="304.3" y="39.6" font-size="19">O<tspan font-size="10.5" dy="7.2" dx="0.8">s</tspan></text><text x="417.9" y="23.8" font-size="19">O<tspan font-size="10.5" dy="7.2">b</tspan></text></svg></body></html>
